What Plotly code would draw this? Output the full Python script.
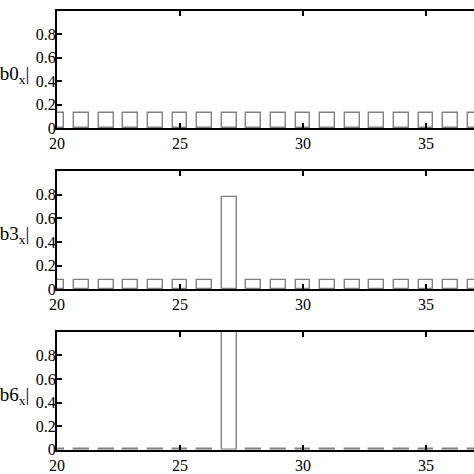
import plotly.graph_objects as go

# harmonic index on the x axis
harmonics = list(range(20, 38))

# magnitudes
b0_mag = [0.125] * len(harmonics)
b3_mag = [0.08] * 7 + [0.78] + [0.08] * 10
b6_mag = [0.005] * 7 + [0.999] + [0.005] * 10

panels = [
    ("b0", b0_mag, [0.730, 0.977]),
    ("b3", b3_mag, [0.390, 0.639]),
    ("b6", b6_mag, [0.051, 0.300]),
]

font_family = "Liberation Serif"
fig = go.Figure()

for i, (name, mag, dom) in enumerate(panels):
    n = "" if i == 0 else str(i + 1)
    fig.add_trace(go.Bar(
        x=harmonics, y=mag, width=0.6,
        marker=dict(color="white", line=dict(color="#808080", width=1.4)),
        xaxis="x" + n, yaxis="y" + n, showlegend=False,
    ))
    fig.update_layout(**{
        "xaxis" + n: dict(
            domain=[0, 1], anchor="y" + n, range=[20, 36.95],
            tickvals=[20, 25, 30, 35], ticks="inside", ticklen=5,
            tickwidth=1.5, tickcolor="black",
            showline=True, linecolor="black", linewidth=2, mirror="ticks",
            showgrid=False, zeroline=False, automargin=False,
        ),
        "yaxis" + n: dict(
            domain=dom, anchor="x" + n, range=[0, 1.0],
            tickvals=[0, 0.2, 0.4, 0.6, 0.8], ticks="inside", ticklen=5,
            tickwidth=1.5, tickcolor="black", ticklabelstandoff=-4,
            showline=True, linecolor="black", linewidth=2,
            showgrid=False, zeroline=False, automargin=False,
        ),
    })
    mid = (dom[0] + dom[1]) / 2
    fig.add_annotation(
        text="|" + name + "<sub>x</sub>|", xref="paper", yref="paper",
        x=-0.062, y=mid - 0.011, xanchor="right", yanchor="middle",
        showarrow=False, font=dict(family=font_family, size=19, color="black"),
    )

fig.update_layout(
    width=474, height=474,
    margin=dict(l=57, r=0, t=0, b=0),
    paper_bgcolor="white", plot_bgcolor="white",
    font=dict(family=font_family, size=16, color="black"),
    bargap=0,
)

# drop the browser's default page margin so the figure sits at the corner
fig.write_html("out.html", config={"displayModeBar": False},
               post_script="document.body.style.margin='0';")
